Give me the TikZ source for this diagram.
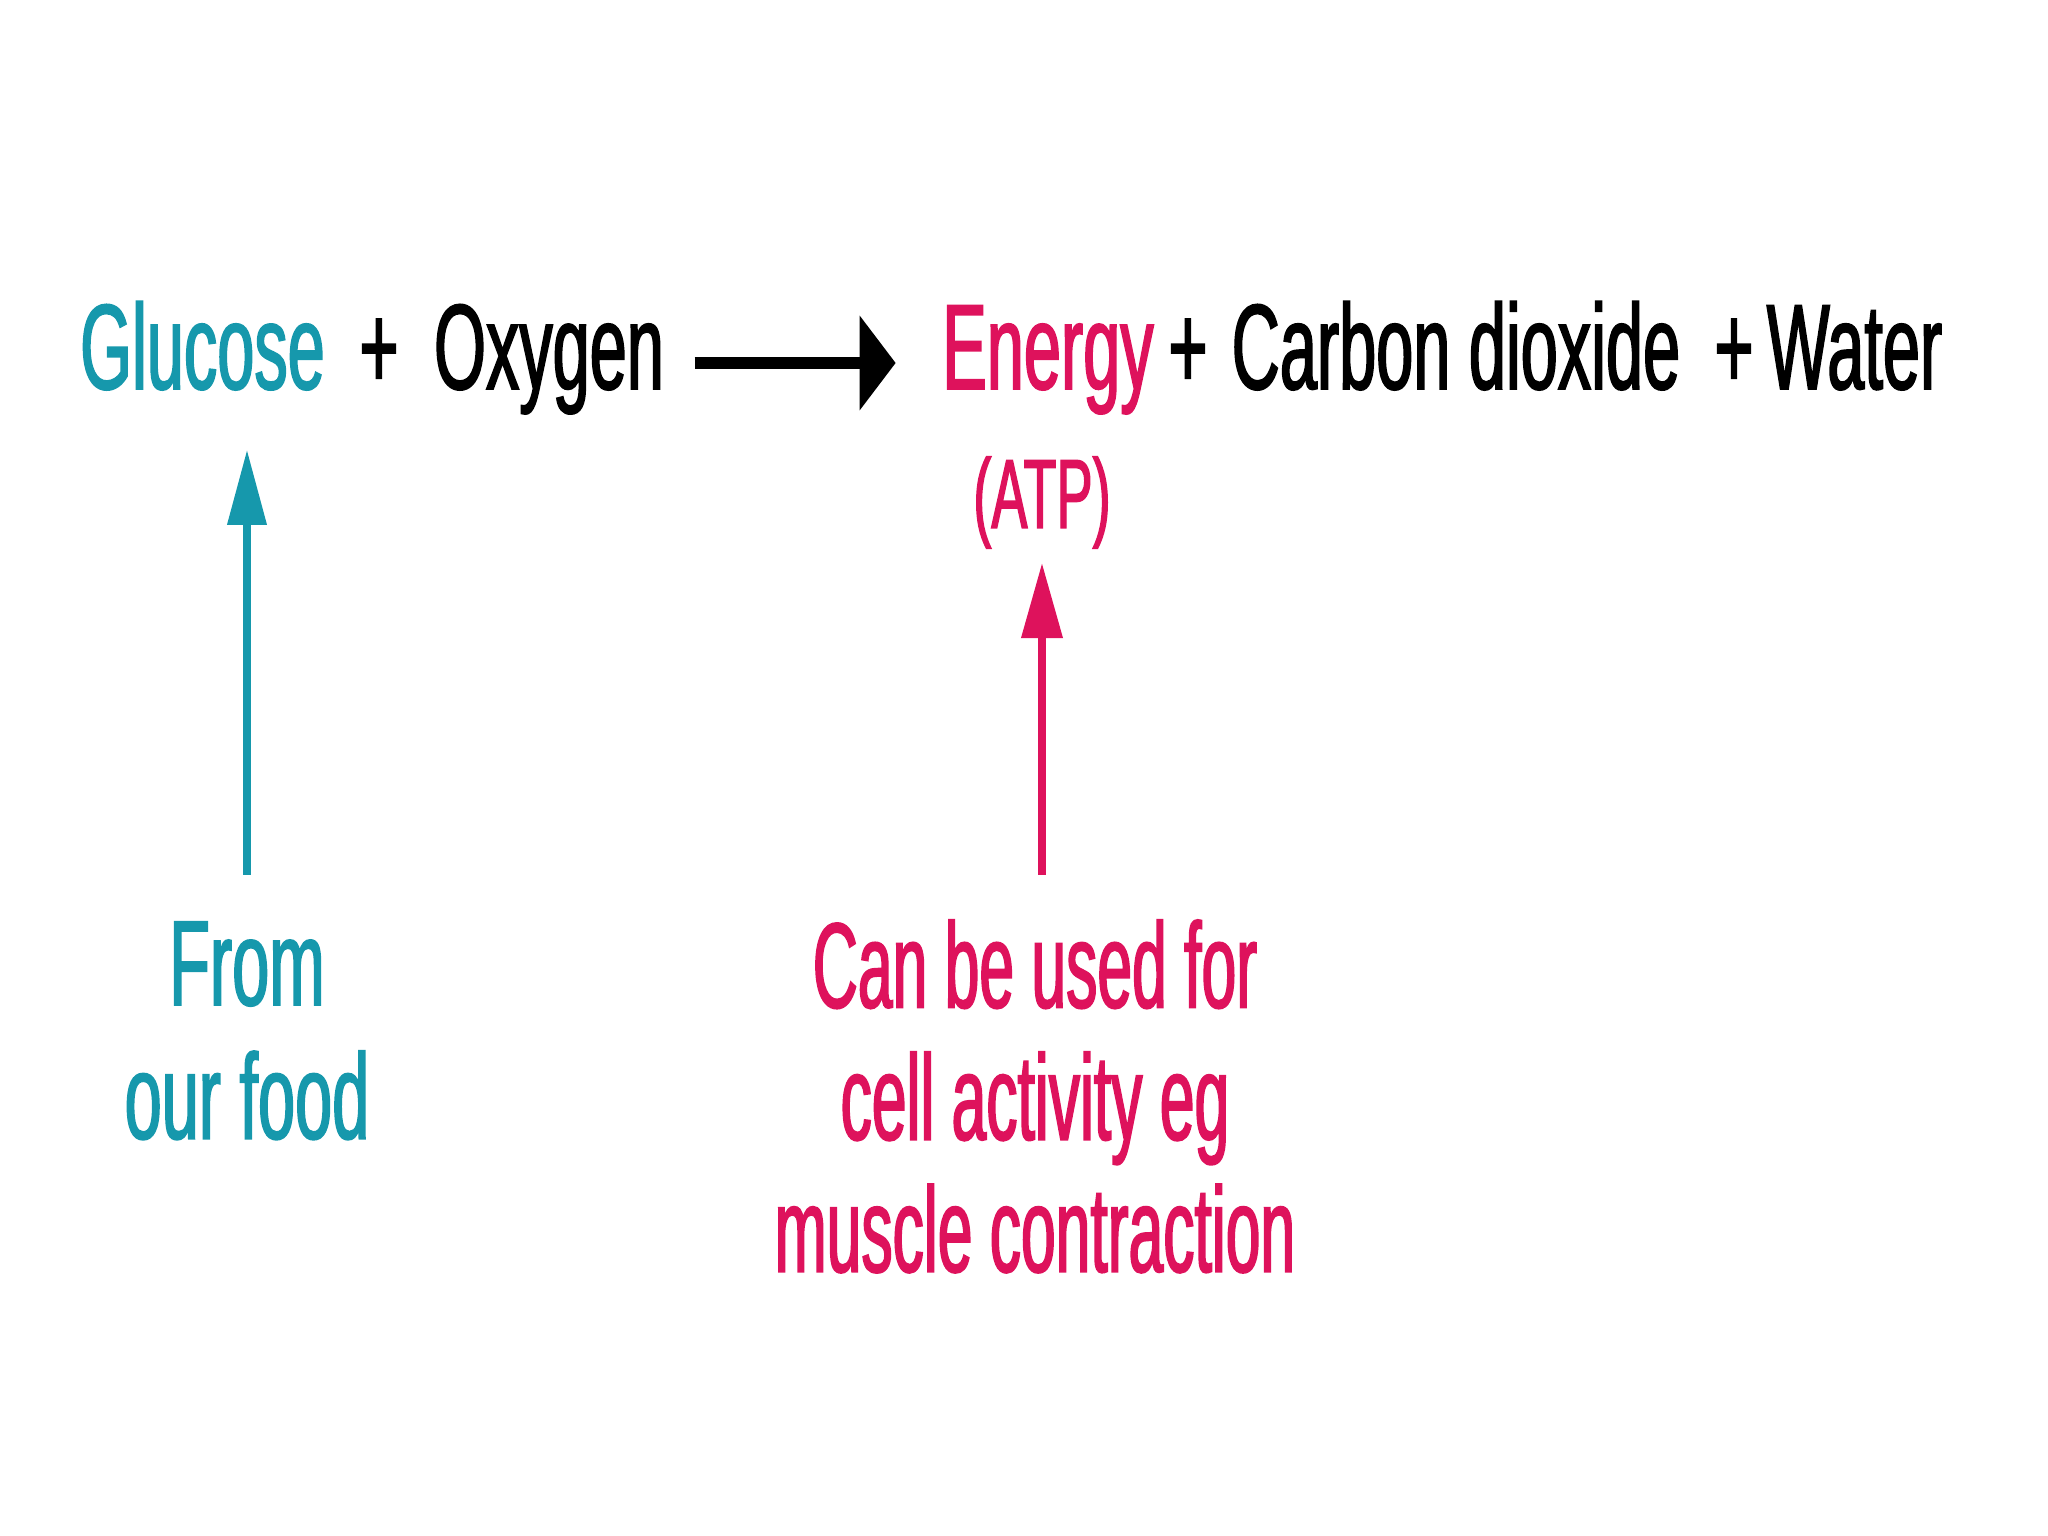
\documentclass[tikz,border=0pt]{standalone}
\usepackage{fontspec}
\setmainfont{Liberation Sans}[FakeStretch=0.55, FakeBold=1.4]
\newfontfamily\notefont{Liberation Sans}[FakeStretch=0.515, FakeBold=1.4]
\usetikzlibrary{arrows.meta, positioning}
\definecolor{foodteal}{RGB}{22,152,172}
\definecolor{atppink}{RGB}{222,18,92}

\begin{document}
\begin{tikzpicture}[
	every node/.append style={inner sep=0pt, anchor=base},
	big/.style={font=\fontsize{34.5}{38}\selectfont},
	small/.style={font=\fontsize{28}{32}\selectfont},
	note/.style={font=\notefont\fontsize{34.5}{37.6}\selectfont},
	react/.style={draw=black, line width=3.6pt,
		-{Triangle[length=0.36cm, width=0.93cm]}},
	foodline/.style={draw=foodteal, line width=2pt,
		-{Triangle[length=0.75cm, width=0.38cm]}},
	useline/.style={draw=atppink, line width=2pt,
		-{Triangle[length=0.75cm, width=0.40cm]}}]

	\useasboundingbox (0,0) rectangle (20.48,15.36);

	% word equation
	\node[big, text=foodteal] at (2.025,11.47) (glucose){Glucose};
	\node[big] at (3.79,11.47) (plusA){+};
	\node[big] at (5.49,11.47) (oxygen){Oxygen};
	\node[big, text=atppink] at (10.48,11.47) (energy){Energy};
	\node[big] at (11.88,11.47) (plusB){+};
	\node[big] at (14.56,11.47) (co2){Carbon dioxide};
	\node[big] at (17.34,11.47) (plusC){+};
	\node[big] at (18.545,11.47) (water){Water};
	\node[small, text=atppink] at (10.42,10.08) (atp){(ATP)};
	\draw[react, shorten <=0.30cm, shorten >=0.46cm]
		([yshift=0.26cm]oxygen.base east) -- ([yshift=0.26cm]energy.base west);

	% notes
	\node[big, text=foodteal, align=center, anchor=north] at (2.47,6.15) (food){From\\our food};
	\node[note, text=atppink, align=center, anchor=north] at (10.35,6.17) (use){Can be used for\\cell activity eg\\muscle contraction};
	\draw[foodline, shorten <=0.46cm, shorten >=0.59cm] (food.north) -- (food.north |- glucose.south);
	\draw[useline, shorten <=0.44cm, shorten >=0.14cm] (use.north -| atp.south) -- (atp.south);
\end{tikzpicture}
\end{document}
